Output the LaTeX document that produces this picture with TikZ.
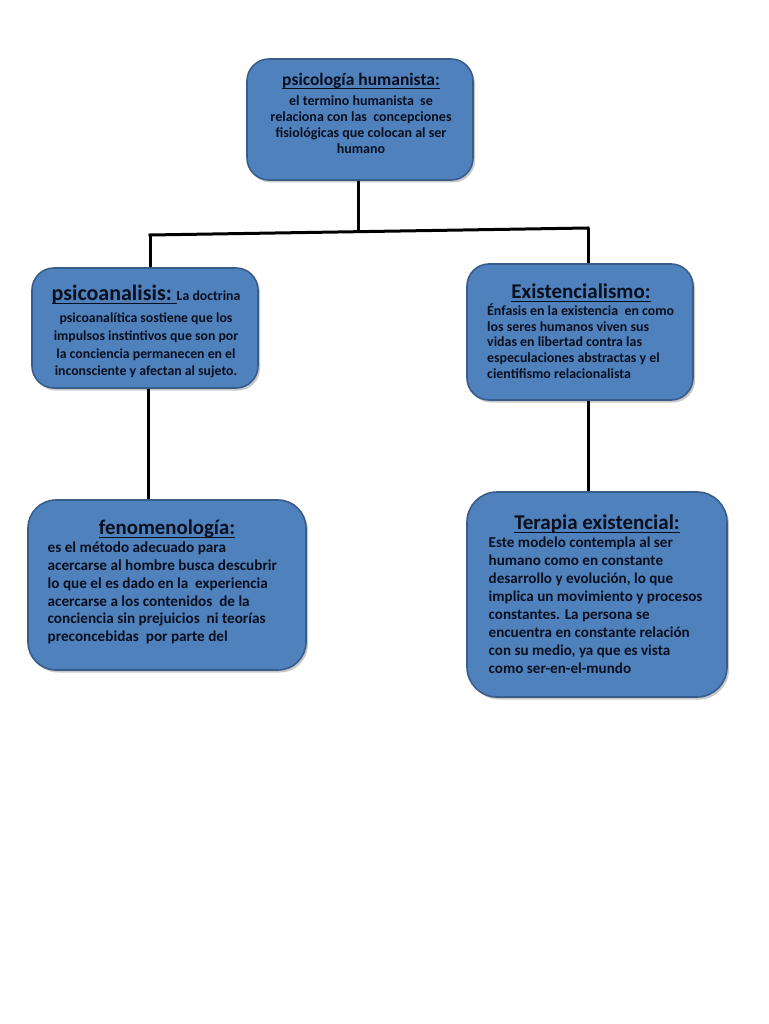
\documentclass[tikz,border=0pt]{standalone}
\usepackage{fontspec}
\setmainfont{Carlito}
\usetikzlibrary{shadows}
\newcommand{\ulword}[1]{\setbox0\hbox{#1}\rlap{\rule[-0.19em]{\wd0}{0.075em}}\box0}
\begin{document}
\begin{tikzpicture}[x=1pt,y=-1pt,
  boxst/.style={draw=boxedge, line width=1.6pt, fill=boxblue, rounded corners=22pt, inner sep=0pt,
    drop shadow={shadow xshift=2pt, shadow yshift=-2.5pt, fill=black!35, opacity=0.6}},
  conn/.style={line width=3pt, black},
  txt/.style={inner sep=0pt, text=txtcol}]
\definecolor{boxblue}{HTML}{4F81BD}
\definecolor{boxedge}{HTML}{385D8A}
\definecolor{txtcol}{HTML}{0A0F1E}
\useasboundingbox (0,0) rectangle (768,1024);
\fill[white] (0,0) rectangle (768,1024);
% boxes
\node[boxst, minimum width=226pt, minimum height=121pt] (top) at (360,119.5) {};
\node[boxst, minimum width=226pt, minimum height=120pt] (psico) at (145,328) {};
\node[boxst, minimum width=226pt, minimum height=136pt] (exis) at (580,332) {};
\node[boxst, minimum width=278pt, minimum height=170pt, rounded corners=28pt] (fenom) at (167,585) {};
\node[boxst, minimum width=260pt, minimum height=205pt, rounded corners=30pt] (tera) at (597,594.5) {};
% connectors
\coordinate (jl) at (150,235);
\coordinate (jr) at (588,228);
\coordinate (jm) at (358,231.8);
\coordinate (pl) at (148,0);
\coordinate (pr) at (588,0);
\draw[conn] (top.south -| jm) -- (jm);
\draw[conn, line cap=rect] (jl) -- (jr);
\draw[conn] (jl) -- (jl |- psico.north);
\draw[conn] (jr) -- (jr |- exis.north);
\draw[conn] (pl |- psico.south) -- (pl |- fenom.north);
\draw[conn] (pr |- exis.south) -- (pr |- tera.north);
% top box
\node[txt, anchor=base, font=\bfseries\fontsize{17.5}{18}\selectfont] (ttop) at (361,85.5)
  {\ulword{psicología humanista:}};
\node[txt, anchor=north, align=center, font=\bfseries\fontsize{14}{16}\selectfont] (btop) at (361,91)
  {\rule{0pt}{14pt}el termino humanista~ se\\ relaciona con las~ concepciones\\ fisiológicas que colocan al ser\\ humano};
% psicoanalisis
\node[txt, anchor=north, align=center, font=\bfseries\fontsize{13.8}{17.8}\selectfont] (tpsico) at (146,278)
  {\rule{0pt}{22pt}{\fontsize{22}{22}\selectfont\ulword{psicoanalisis:\ }}La doctrina\\[4.4pt]
   psicoanalítica sostiene que los\\ impulsos instintivos que son por\\ la conciencia permanecen en el\\ inconsciente y afectan al sujeto.};
% existencialismo
\node[txt, anchor=base, font=\bfseries\fontsize{21}{22}\selectfont] (texist) at (581,298.3)
  {\ulword{Existencialismo:}};
\node[txt, anchor=north west, align=left, font=\bfseries\fontsize{13.9}{15.9}\selectfont] (bexist) at (487,301)
  {\rule{0pt}{13.9pt}Énfasis en la existencia~ en como\\ los seres humanos viven sus\\ vidas en libertad contra las\\ especulaciones abstractas y el\\ cientifismo relacionalista};
% fenomenologia
\node[txt, anchor=base, font=\bfseries\fontsize{20.8}{22}\selectfont] (tfenom) at (167,534.5)
  {\ulword{fenomenología:}};
\node[txt, anchor=north west, align=left, font=\bfseries\fontsize{15.2}{17.7}\selectfont] (bfenom) at (47.5,537.5)
  {\rule{0pt}{15.2pt}es el método adecuado para\\ acercarse al hombre busca descubrir\\ lo que el es dado en la~ experiencia\\ acercarse a los contenidos~ de la\\ conciencia sin prejuicios~ ni teorías\\ preconcebidas~ por parte del};
% terapia
\node[txt, anchor=base, font=\bfseries\fontsize{21}{22}\selectfont] (ttera) at (597,529.5)
  {\ulword{Terapia existencial:}};
\node[txt, anchor=north west, align=left, font=\bfseries\fontsize{15.1}{17.9}\selectfont] (btera) at (488.5,532.5)
  {\rule{0pt}{15.1pt}Este modelo contempla al ser\\ humano como en constante\\ desarrollo y evolución, lo que\\ implica un movimiento y procesos\\ constantes. La persona se\\ encuentra en constante relación\\ con su medio, ya que es vista\\ como ser-en-el-mundo};
\end{tikzpicture}
\end{document}
